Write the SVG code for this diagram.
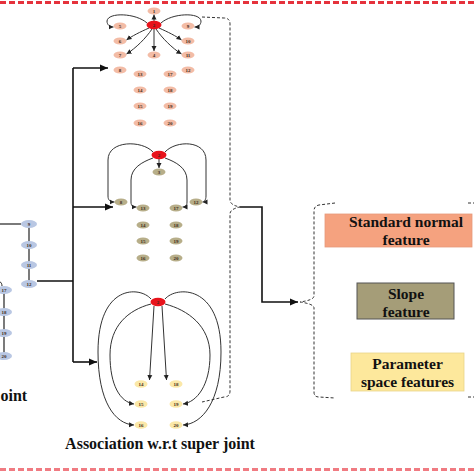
<svg xmlns="http://www.w3.org/2000/svg" width="474" height="474" viewBox="0 0 474 474">
<defs>
<style>
.lbl{font-family:"Liberation Serif","DejaVu Serif",serif;font-size:5px;font-weight:bold;fill:#3a2a20;text-anchor:middle;dominant-baseline:central}
.big{font-family:"Liberation Serif","DejaVu Serif",serif;font-weight:bold;fill:#111;text-anchor:middle}
.st{text-anchor:start}
.cur{fill:none;stroke:#333;stroke-width:1;marker-end:url(#ah)}
.trk{fill:none;stroke:#111;stroke-width:1.6}
.dsh{fill:none;stroke:#333;stroke-width:1;stroke-dasharray:3 2}
.red{fill:#e8131b}
.sal{fill:#f3bca6}
.oli{fill:#b7ae89}
.yel{fill:#fbe8a8}
.blu{fill:#b9c7e3}
</style>
<marker id="ah" markerWidth="6" markerHeight="6" refX="5" refY="3" orient="auto" markerUnits="userSpaceOnUse"><path d="M0,0.5 L5,3 L0,5.5 z" fill="#222"/></marker>
<marker id="ab" markerWidth="9" markerHeight="8" refX="8" refY="4" orient="auto" markerUnits="userSpaceOnUse"><path d="M0,0.5 L8,4 L0,7.5 z" fill="#111"/></marker>
</defs>
<rect width="474" height="474" fill="#fff"/>
<line x1="0" y1="2.5" x2="474" y2="2.5" stroke="#e5323c" stroke-width="3" stroke-dasharray="6 3"/>
<line x1="0" y1="469.5" x2="474" y2="469.5" stroke="#f07b82" stroke-width="3" stroke-dasharray="6 3"/>

<g id="connectors">
<!-- top panel -->
<path class="cur" d="M154,21 L154,14.5"/>
<path class="cur" d="M147,23 C136,13 108,12 107,21 C107,25 110,27 113.5,27"/>
<path class="cur" d="M161,23 C172,13 200,12 201,21 C201,25 198,27 194.5,27"/>
<path class="cur" d="M149,28 C140,32 132,36 126.5,40"/>
<path class="cur" d="M159,28 C168,32 176,36 181.5,40"/>
<path class="cur" d="M152,29 C146,38 136,48 126.5,54"/>
<path class="cur" d="M156,29 C162,38 172,48 181.5,54"/>
<path class="cur" d="M154,29 L154,51"/>
<!-- middle panel -->
<path class="cur" d="M159,159 L159,168"/>
<path class="cur" d="M153,152 C142,140 108,140 108,160 L108,196 C108,200 110,202 114.5,202"/>
<path class="cur" d="M153,158 C142,162 131,168 131,180 L131,202 C131,206 133,207 136.5,207"/>
<path class="cur" d="M165,158 C176,162 187,168 187,180 L187,202 C187,206 185,207 182.5,207"/>
<path class="cur" d="M165,152 C176,140 206,140 206,160 L206,196 C206,200 204,202 202.5,202"/>
<!-- bottom panel -->
<path class="cur" d="M154,306 L149.5,380"/>
<path class="cur" d="M162,306 L166.5,380"/>
<path class="cur" d="M151,304 C128,310 110,326 110,355 C110,385 120,402 134,404"/>
<path class="cur" d="M165,304 C188,310 210,326 210,355 C210,385 197,402 183,404"/>
<path class="cur" d="M151,299 C140,286 98,284 98,352 C98,402 115,424 134,425"/>
<path class="cur" d="M165,299 C176,286 221,284 221,352 C221,402 202,424 183,425"/>
<!-- left chains -->
<line x1="0" y1="224" x2="21" y2="224" stroke="#222" stroke-width="1.2"/>
<line x1="29" y1="224" x2="29" y2="284" stroke="#222" stroke-width="1.2"/>
<line x1="4" y1="290" x2="4" y2="356" stroke="#222" stroke-width="1.2"/>
<path d="M0,282 C1,282 2,284 2,286" fill="none" stroke="#222" stroke-width="1"/>
<!-- trunk -->
<line class="trk" x1="37" y1="281" x2="73" y2="281"/>
<line class="trk" x1="73" y1="68" x2="73" y2="362"/>
<path class="trk" d="M73,68 L108,68" marker-end="url(#ab)"/>
<path class="trk" d="M73,207 L113,207" marker-end="url(#ab)"/>
<path class="trk" d="M73,362 L97,362" marker-end="url(#ab)"/>
<!-- braces -->
<path class="dsh" d="M202,17 L224,18 Q230,18 230,24 L230,200 Q230,205 240,207 Q230,209 230,214 L230,391 Q230,397 224,397 L202,402"/>
<path class="dsh" d="M335,203 L319,205 Q314,206 314,211 L314,296 Q314,300 300,302 Q314,304 314,308 L314,392 Q314,397 319,397 L335,398"/>
<line class="dsh" x1="468" y1="203" x2="474" y2="203"/>
<line class="dsh" x1="468" y1="397" x2="474" y2="397"/>
<path class="trk" d="M240,207 L262,207 L262,302 L298,302" marker-end="url(#ab)"/>
</g>

<g id="top-panel">
<ellipse class="sal" cx="154" cy="11" rx="6.5" ry="3.5"/><text class="lbl" x="154" y="11">1</text>
<ellipse class="red" cx="154" cy="25" rx="7.5" ry="4.2"/><text class="lbl" x="154" y="25">2</text>
<ellipse class="sal" cx="120" cy="26" rx="6.5" ry="3.5"/><text class="lbl" x="120" y="26">5</text>
<ellipse class="sal" cx="188" cy="26" rx="6.5" ry="3.5"/><text class="lbl" x="188" y="26">9</text>
<ellipse class="sal" cx="120" cy="41" rx="6.5" ry="3.5"/><text class="lbl" x="120" y="41">6</text>
<ellipse class="sal" cx="188" cy="41" rx="6.5" ry="3.5"/><text class="lbl" x="188" y="41">10</text>
<ellipse class="sal" cx="120" cy="55" rx="6.5" ry="3.5"/><text class="lbl" x="120" y="55">7</text>
<ellipse class="sal" cx="154" cy="55" rx="6.5" ry="3.5"/><text class="lbl" x="154" y="55">4</text>
<ellipse class="sal" cx="188" cy="55" rx="6.5" ry="3.5"/><text class="lbl" x="188" y="55">11</text>
<ellipse class="sal" cx="120" cy="70" rx="6.5" ry="3.5"/><text class="lbl" x="120" y="70">8</text>
<ellipse class="sal" cx="188" cy="70" rx="6.5" ry="3.5"/><text class="lbl" x="188" y="70">12</text>
<ellipse class="sal" cx="140" cy="74" rx="6.5" ry="3.5"/><text class="lbl" x="140" y="74">13</text>
<ellipse class="sal" cx="170" cy="74" rx="6.5" ry="3.5"/><text class="lbl" x="170" y="74">17</text>
<ellipse class="sal" cx="140" cy="90" rx="6.5" ry="3.5"/><text class="lbl" x="140" y="90">14</text>
<ellipse class="sal" cx="170" cy="90" rx="6.5" ry="3.5"/><text class="lbl" x="170" y="90">18</text>
<ellipse class="sal" cx="140" cy="106" rx="6.5" ry="3.5"/><text class="lbl" x="140" y="106">15</text>
<ellipse class="sal" cx="170" cy="106" rx="6.5" ry="3.5"/><text class="lbl" x="170" y="106">19</text>
<ellipse class="sal" cx="140" cy="123" rx="6.5" ry="3.5"/><text class="lbl" x="140" y="123">16</text>
<ellipse class="sal" cx="170" cy="123" rx="6.5" ry="3.5"/><text class="lbl" x="170" y="123">20</text>
</g>

<g id="middle-panel">
<ellipse class="red" cx="159" cy="155" rx="7.5" ry="4.2"/><text class="lbl" x="159" y="155">2</text>
<ellipse class="oli" cx="159" cy="172" rx="6.5" ry="3.5"/><text class="lbl" x="159" y="172">3</text>
<ellipse class="oli" cx="121" cy="202" rx="6.5" ry="3.5"/><text class="lbl" x="121" y="202">8</text>
<ellipse class="oli" cx="196" cy="202" rx="6.5" ry="3.5"/><text class="lbl" x="196" y="202">12</text>
<ellipse class="oli" cx="143" cy="208" rx="6.5" ry="3.5"/><text class="lbl" x="143" y="208">13</text>
<ellipse class="oli" cx="176" cy="208" rx="6.5" ry="3.5"/><text class="lbl" x="176" y="208">17</text>
<ellipse class="oli" cx="143" cy="225" rx="6.5" ry="3.5"/><text class="lbl" x="143" y="225">14</text>
<ellipse class="oli" cx="176" cy="225" rx="6.5" ry="3.5"/><text class="lbl" x="176" y="225">18</text>
<ellipse class="oli" cx="143" cy="241" rx="6.5" ry="3.5"/><text class="lbl" x="143" y="241">15</text>
<ellipse class="oli" cx="176" cy="241" rx="6.5" ry="3.5"/><text class="lbl" x="176" y="241">19</text>
<ellipse class="oli" cx="143" cy="258" rx="6.5" ry="3.5"/><text class="lbl" x="143" y="258">16</text>
<ellipse class="oli" cx="176" cy="258" rx="6.5" ry="3.5"/><text class="lbl" x="176" y="258">20</text>
</g>

<g id="bottom-panel">
<ellipse class="red" cx="158" cy="302" rx="7.5" ry="4.2"/><text class="lbl" x="158" y="302">2</text>
<ellipse class="yel" cx="141" cy="384" rx="6.5" ry="3.8"/><text class="lbl" x="141" y="384">14</text>
<ellipse class="yel" cx="176" cy="384" rx="6.5" ry="3.8"/><text class="lbl" x="176" y="384">18</text>
<ellipse class="yel" cx="141" cy="404" rx="6.5" ry="3.8"/><text class="lbl" x="141" y="404">15</text>
<ellipse class="yel" cx="176" cy="404" rx="6.5" ry="3.8"/><text class="lbl" x="176" y="404">19</text>
<ellipse class="yel" cx="141" cy="425" rx="6.5" ry="3.8"/><text class="lbl" x="141" y="425">16</text>
<ellipse class="yel" cx="176" cy="425" rx="6.5" ry="3.8"/><text class="lbl" x="176" y="425">20</text>
</g>

<g id="left-chain">
<ellipse class="blu" cx="29" cy="224" rx="8" ry="4"/><text class="lbl" x="29" y="224">9</text>
<ellipse class="blu" cx="29" cy="245" rx="8" ry="4"/><text class="lbl" x="29" y="245">10</text>
<ellipse class="blu" cx="29" cy="265" rx="8" ry="4"/><text class="lbl" x="29" y="265">11</text>
<ellipse class="blu" cx="29" cy="284" rx="8" ry="4"/><text class="lbl" x="29" y="284">12</text>
<ellipse class="blu" cx="4" cy="290" rx="8" ry="4"/><text class="lbl" x="4" y="290">17</text>
<ellipse class="blu" cx="4" cy="312" rx="8" ry="4"/><text class="lbl" x="4" y="312">18</text>
<ellipse class="blu" cx="4" cy="333" rx="8" ry="4"/><text class="lbl" x="4" y="333">19</text>
<ellipse class="blu" cx="4" cy="356" rx="8" ry="4"/><text class="lbl" x="4" y="356">20</text>
<text class="big st" x="0.5" y="401" font-size="16">oint</text>
</g>

<g id="box-standard">
<rect x="325" y="214" width="147" height="33" fill="#f5a27f" stroke="#e59a7a" stroke-width="0.8"/>
<text class="big" x="406" y="227" font-size="15.5">Standard normal</text>
<text class="big" x="406" y="245" font-size="15.5">feature</text>
</g>
<g id="box-slope">
<rect x="357" y="283" width="97" height="36" fill="#a59d78" stroke="#555" stroke-width="1"/>
<text class="big" x="406" y="298.5" font-size="15.5">Slope</text>
<text class="big" x="406" y="316.5" font-size="15.5">feature</text>
</g>
<g id="box-parameter">
<rect x="351" y="353" width="113" height="38" fill="#fde89c" stroke="#e8d48a" stroke-width="0.8"/>
<text class="big" x="407.5" y="368.5" font-size="15.5">Parameter</text>
<text class="big" x="407.5" y="386.5" font-size="15.5">space features</text>
</g>

<text class="big" x="160" y="449" font-size="16">Association w.r.t super joint</text>
</svg>
